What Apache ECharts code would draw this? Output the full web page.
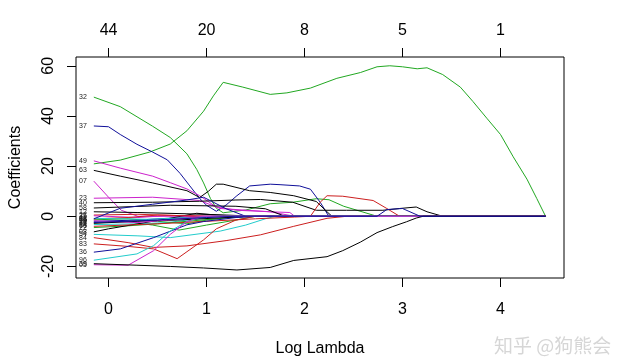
<!DOCTYPE html>
<html>
<head>
<meta charset="utf-8">
<script src="https://cdn.jsdelivr.net/npm/echarts@6/dist/echarts.min.js"></script>
<style>html,body{margin:0;padding:0;background:#fff}#c{width:622px;height:362px}</style>
</head>
<body>
<div id="c"></div>
<script>
// ---- axis data ----
const xTicks = [0, 1, 2, 3, 4];
const topTickPos = [0, 1, 2, 3, 4];
const topLabels = ['44', '20', '8', '5', '1'];
const yTicks = [-20, 0, 20, 40, 60];

// ---- coefficient paths: [log lambda, coefficient] ----
const pathBig = [[-0.15,20.9],[0.12,22.4],[0.42,25.6],[0.63,28.8],[0.80,34.1],[0.97,41.9],[1.07,48],[1.17,53.4],[1.37,51.5],[1.65,48.6],[1.82,49.2],[2.06,51.1],[2.33,55.0],[2.57,57.3],[2.74,59.6],[2.87,60.0],[3.0,59.6],[3.15,58.8],[3.25,59.2],[3.41,56.5],[3.59,51.5],[3.72,45.7],[3.86,39.1],[4.0,32.6],[4.13,23.7],[4.27,14.8],[4.37,7.1],[4.46,0]];
const path32 = [[-0.15,47.5],[0.12,43.7],[0.45,35.9],[0.63,31.4],[0.80,24.9],[0.90,18.7],[0.97,13.3],[1.04,7.1],[1.10,3.2],[1.17,1.4],[1.40,2.5],[1.65,5.0],[1.88,5.6],[2.12,7.0],[2.25,6.6],[2.40,4.0],[2.74,0],[4.46,0]];
const path37 = [[-0.15,36.0],[0.0,35.7],[0.12,32.6],[0.29,28.7],[0.45,25.6],[0.60,22.5],[0.73,17.1],[0.83,12.1],[0.93,7.1],[1.0,4.4],[1.1,2.0],[1.2,4.5],[1.31,8.2],[1.44,12.1],[1.65,12.8],[1.75,12.6],[1.95,12.1],[2.06,10.8],[2.16,5.6],[2.24,0.5],[2.27,0],[4.46,0]];
const path49 = [[-0.15,22.1],[0.12,19.2],[0.45,16.0],[0.63,13.4],[0.80,10.9],[0.93,8.2],[1.10,3.7],[1.31,2.4],[1.65,1.8],[1.85,1.5],[1.90,0],[4.46,0]];
const path63 = [[-0.15,18.3],[0.12,16.0],[0.45,13.3],[0.80,10.2],[0.93,7.5],[1.02,10.0],[1.10,12.8],[1.17,12.8],[1.44,10.2],[1.65,9.5],[1.89,8.2],[2.12,5.9],[2.23,1.8],[2.28,0],[4.46,0]];
const path07 = [[-0.15,14.0],[0.0,7.6],[0.13,2.4],[0.30,0],[4.46,0]];
const path23 = [[-0.15,7.2],[0.45,7.6],[0.93,6.3],[1.14,3.1],[1.65,1.8],[1.90,0],[4.46,0]];
const path40 = [[-0.15,5.4],[0.45,5.6],[0.93,6.0],[1.30,6.5],[1.55,6.7],[1.88,5.6],[2.12,2.4],[2.43,2.4],[2.80,2.4],[2.97,3.1],[3.14,3.7],[3.25,1.8],[3.41,0],[4.46,0]];
const path58 = [[-0.15,3.3],[0.63,4.4],[1.30,4.0],[1.60,3.0],[1.80,0],[4.46,0]];
const pathBlk1 = [[-0.15,1.8],[0.30,1.5],[0.80,1.0],[1.20,0.5],[1.50,0],[4.46,0]];
const pathRed1 = [[-0.15,0.5],[0.30,0.8],[0.70,0.3],[1.0,0],[4.46,0]];
const pathGrn1 = [[-0.15,-1.4],[0.20,-1.0],[0.50,-2.0],[0.80,-3.0],[1.0,-1.5],[1.30,0],[4.46,0]];
const pathBlu1 = [[-0.15,-2.0],[0.30,-1.5],[0.60,-0.8],[1.0,-0.3],[1.20,0],[4.46,0]];
const pathGrn2 = [[-0.15,-2.6],[0.20,-2.2],[0.45,-3.5],[0.72,-5.5],[1.0,-3.5],[1.30,-1.5],[1.50,0],[4.46,0]];
const pathCyn1 = [[-0.15,-3.3],[0.30,-3.0],[0.60,-2.5],[0.90,-1.0],[1.10,0],[4.46,0]];
const pathGrn3 = [[-0.15,-4.5],[0.20,-3.8],[0.50,-3.0],[0.80,-2.0],[1.10,-1.0],[1.40,0],[4.46,0]];
const pathBlk2 = [[-0.15,-6.2],[0.0,-5.0],[0.30,-3.0],[0.60,-1.0],[0.90,1.2],[1.10,0.5],[1.30,0],[4.46,0]];
const pathMag1 = [[-0.15,0.2],[0.30,-0.5],[0.60,0.3],[0.90,0],[4.46,0]];
const pathRed2 = [[-0.15,-1.0],[0.20,-0.5],[0.50,0.5],[0.80,0.2],[1.0,0],[4.46,0]];
const pathCyn2 = [[-0.15,-0.8],[0.40,-1.2],[0.80,-0.6],[1.10,0],[4.46,0]];
const pathBlk3 = [[-0.15,-2.8],[0.30,-2.0],[0.70,-1.5],[1.20,-0.5],[1.50,0],[4.46,0]];
const pathMag2 = [[-0.15,-1.8],[0.30,-2.5],[0.60,-1.5],[1.0,0],[4.46,0]];
const pathBlu2 = [[-0.15,-1.0],[0.12,3.2],[0.45,4.8],[0.80,6.5],[0.97,7.6],[1.05,6.0],[1.20,3.0],[1.40,0],[4.46,0]];
const pathCyn3 = [[-0.15,-7.2],[0.30,-7.8],[0.63,-8.5],[1.14,-5.9],[1.40,-3.5],[1.60,-1.0],[1.70,0],[4.46,0]];
const pathRed3 = [[-0.15,-8.5],[0.20,-10.5],[0.46,-12.4],[0.80,-11.8],[1.20,-9.7],[1.55,-7.4],[1.89,-4.0],[2.23,-0.8],[2.43,0],[4.46,0]];
const pathRed4 = [[-0.15,-11.0],[0.20,-12.0],[0.46,-13.0],[0.70,-16.9],[0.97,-9.4],[1.10,-5.0],[1.30,-1.5],[1.50,0],[4.46,0]];
const pathRed5 = [[-0.15,-4.0],[0.50,-3.0],[1.0,-2.0],[1.50,-1.0],[1.90,-0.3],[2.06,0],[2.16,5.6],[2.23,8.2],[2.39,8.0],[2.70,6.3],[2.84,3.1],[2.97,0],[4.46,0]];
const pathBlu3 = [[-0.15,-14.3],[0.12,-13.0],[0.46,-8.5],[0.80,-3.4],[0.97,-2.1],[1.30,-0.5],[1.50,0],[4.46,0]];
const pathCyn4 = [[-0.15,-17.5],[0.29,-15.0],[0.46,-11.7],[0.63,-5.9],[0.80,-2.1],[0.97,0],[4.46,0]];
const pathMag3 = [[-0.15,-19.3],[0.20,-19.5],[0.46,-13.7],[0.63,-7.2],[0.80,-2.1],[0.95,0],[4.46,0]];
const pathBlkLow = [[-0.15,-18.9],[0.29,-19.5],[0.63,-20.0],[0.97,-20.6],[1.31,-21.4],[1.65,-20.4],[1.89,-17.6],[2.23,-16.1],[2.39,-13.7],[2.57,-10.3],[2.74,-6.5],[2.90,-4.1],[3.04,-2.2],[3.14,-0.7],[3.21,0],[4.46,0]];
const pathBlu4 = [[-0.15,-2.5],[0.50,-1.5],[1.0,-0.5],[1.30,0],[2.74,0],[2.84,2.7],[3.0,3.1],[3.18,0],[4.46,0]];

const coefPaths = [pathBig, path32, path37, path49, path63, path07, path23, path40, path58, pathBlk1, pathRed1, pathGrn1, pathBlu1, pathGrn2, pathCyn1, pathGrn3, pathBlk2, pathMag1, pathRed2, pathCyn2, pathBlk3, pathMag2, pathBlu2, pathCyn3, pathRed3, pathRed4, pathRed5, pathBlu3, pathCyn4, pathMag3, pathBlkLow, pathBlu4];
const coefLabels = ['49', '32', '37', '49', '63', '07', '23', '40', '58', '12', '27', '45', '19', '31', '14', '22', '08', '35', '11', '42', '16', '29', '03', '54', '84', '83', '66', '36', '96', '05', '39', '21'];

// ---- styles ----
const pal = {k:'#000000', r:'#cc1f1f', g:'#22a822', b:'#10109a', c:'#22cccc', m:'#cc22cc'};
const coefColorKeys = ['g','g','b','m','k','m','m','k','k','k','r','g','b','g','c','g','k','m','r','c','k','m','b','c','r','r','r','b','c','m','k','b'];
const FONT = '"Liberation Sans", Arial, sans-serif';

const chart = echarts.init(document.getElementById('c'), null, {renderer:'canvas'});
const XMIN = -0.332, XMAX = 4.648, YMIN = -24.6, YMAX = 63.5;

const series = coefPaths.map((p, i) => ({
  type: 'line',
  silent: true,
  animation: false,
  showSymbol: true,
  symbol: 'circle',
  symbolSize: 0,
  lineStyle: {width: 1, color: pal[coefColorKeys[i]]},
  itemStyle: {color: pal[coefColorKeys[i]]},
  emphasis: {disabled: true},
  label: {show: false},
  data: p.map((pt, j) => j === 0 && i !== 0 ? {
    value: pt,
    label: {show: true, formatter: coefLabels[i], position: 'left', distance: 7, fontSize: 7, color: '#222', fontFamily: FONT}
  } : pt)
}));

chart.setOption({
  animation: false,
  backgroundColor: '#ffffff',
  grid: {left: 76, top: 57, width: 488, height: 228, show: true, borderColor: '#000', borderWidth: 1, backgroundColor: 'transparent'},
  xAxis: [{
    type: 'value', min: XMIN, max: XMAX, position: 'bottom',
    axisLine: {show: false, onZero: false}, splitLine: {show: false},
    axisTick: {show: true, inside: false, length: 9, customValues: xTicks, lineStyle: {color: '#000'}},
    axisLabel: {customValues: xTicks, fontSize: 16, color: '#000', margin: 24, fontFamily: FONT},
    name: 'Log Lambda', nameLocation: 'middle', nameGap: 63,
    nameTextStyle: {fontSize: 16, color: '#000', fontFamily: FONT}
  }, {
    type: 'value', min: XMIN, max: XMAX, position: 'top',
    axisLine: {show: false, onZero: false}, splitLine: {show: false},
    axisTick: {show: true, inside: false, length: 9, customValues: topTickPos, lineStyle: {color: '#000'}},
    axisLabel: {customValues: topTickPos, fontSize: 16, color: '#000', margin: 18, fontFamily: FONT,
      formatter: v => topLabels[topTickPos.indexOf(Math.round(v))]}
  }],
  yAxis: [{
    type: 'value', min: YMIN, max: YMAX, position: 'left',
    axisLine: {show: false, onZero: false}, splitLine: {show: false},
    axisTick: {show: true, inside: false, length: 9, customValues: yTicks, lineStyle: {color: '#000'}},
    axisLabel: {customValues: yTicks, fontSize: 16, color: '#000', margin: 19, rotate: 90, fontFamily: FONT},
    name: 'Coefficients', nameLocation: 'middle', nameGap: 52, nameRotate: 90,
    nameTextStyle: {fontSize: 16, color: '#000', fontFamily: FONT}
  }],
  graphic: [{
    type: 'text', left: 494, top: 336, silent: true,
    style: {text: '知乎 @狗熊会', font: '19px "Noto Sans CJK SC"', fill: '#d6d6d6'}
  }],
  series: series
});
</script>
</body>
</html>
